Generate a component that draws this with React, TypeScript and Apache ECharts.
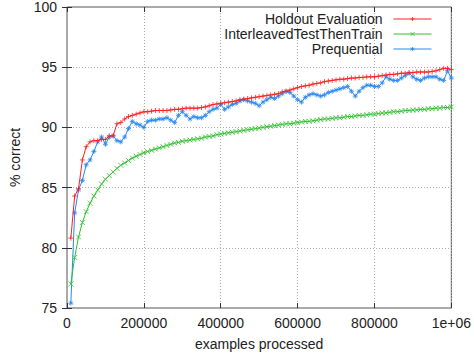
import React, { useEffect, useRef } from "react";
import * as echarts from "echarts";

const SERIES_NAMES = ["Holdout Evaluation", "InterleavedTestThenTrain", "Prequential"];
const EXAMPLES = Array.from({ length: 100 }, (_, i) => (i + 1) * 10000);

const HOLDOUT = [
  80.8, 84.3, 84.9, 87.3, 88.4, 88.8, 88.9, 88.9, 89.0, 89.0,
  89.3, 89.3, 90.3, 90.4, 90.7, 90.9, 91.0, 91.1, 91.2, 91.3,
  91.3, 91.35, 91.4, 91.4, 91.4, 91.4, 91.45, 91.5, 91.5, 91.55,
  91.6, 91.6, 91.6, 91.6, 91.65, 91.7, 91.8, 91.9, 91.95, 92.0,
  92.05, 92.1, 92.15, 92.2, 92.3, 92.35, 92.4, 92.45, 92.5, 92.55,
  92.6, 92.65, 92.7, 92.75, 92.8, 92.95, 93.0, 93.1, 93.2, 93.3,
  93.4, 93.45, 93.5, 93.6, 93.65, 93.7, 93.8, 93.85, 93.9, 93.95,
  94.0, 94.0, 94.05, 94.1, 94.1, 94.15, 94.15, 94.2, 94.2, 94.2,
  94.25, 94.3, 94.35, 94.4, 94.4, 94.45, 94.5, 94.5, 94.55, 94.55,
  94.6, 94.6, 94.6, 94.6, 94.65, 94.7, 94.8, 94.9, 94.9, 94.8,
];

const INTERLEAVED = [
  77.0, 79.2, 80.9, 82.1, 83.0, 83.7, 84.3, 84.8, 85.3, 85.7,
  86.0, 86.3, 86.6, 86.85, 87.05, 87.25, 87.45, 87.6, 87.75, 87.9,
  88.0, 88.1, 88.2, 88.3, 88.4, 88.5, 88.6, 88.7, 88.75, 88.85,
  88.9, 88.95, 89.0, 89.05, 89.1, 89.2, 89.25, 89.3, 89.4, 89.45,
  89.5, 89.55, 89.6, 89.65, 89.7, 89.75, 89.8, 89.85, 89.9, 89.95,
  90.0, 90.05, 90.1, 90.15, 90.2, 90.25, 90.3, 90.3, 90.35, 90.4,
  90.45, 90.5, 90.5, 90.55, 90.6, 90.65, 90.7, 90.7, 90.75, 90.8,
  90.8, 90.85, 90.9, 90.9, 90.95, 91.0, 91.0, 91.05, 91.1, 91.1,
  91.15, 91.2, 91.2, 91.25, 91.3, 91.3, 91.35, 91.4, 91.4, 91.45,
  91.45, 91.5, 91.5, 91.55, 91.55, 91.6, 91.6, 91.65, 91.65, 91.7,
];

const PREQUENTIAL = [
  75.4, 82.9, 84.8, 85.6, 86.9, 87.3, 88.0, 88.8, 89.2, 88.6,
  89.2, 89.3, 88.9, 88.8, 89.2, 89.9, 90.5, 90.3, 90.2, 90.0,
  90.5, 90.6, 90.6, 90.7, 90.7, 90.8, 90.6, 90.4, 91.0, 91.3,
  91.0, 90.7, 90.9, 90.8, 90.8, 91.0, 91.3, 91.5, 91.6, 91.9,
  91.5, 91.7, 91.9, 92.0, 92.2, 92.3, 92.2, 92.1, 92.0, 91.8,
  92.1, 92.3, 92.5, 92.4, 92.6, 92.8, 93.0, 92.9, 92.6, 92.3,
  92.1, 92.5, 92.7, 92.8, 92.7, 92.6, 92.7, 92.9, 93.0, 93.1,
  93.2, 93.3, 93.4, 93.0, 92.6, 93.0, 93.3, 93.5, 93.5, 93.4,
  93.4, 93.7, 94.2, 94.0, 93.9, 93.9, 94.1, 94.3, 94.5, 94.2,
  94.0, 93.9, 94.1, 94.2, 94.2, 94.2, 94.0, 93.9, 94.7, 94.1,
];

const COLORS = ["#ff2020", "#30c030", "#2888f0"];
const SYMBOLS = [
  "path://M5,0L5,10M0,5L10,5",
  "path://M0,0L10,10M10,0L0,10",
  "path://M5,0L5,10M0,5L10,5M1.5,1.5L8.5,8.5M8.5,1.5L1.5,8.5",
];

const FONT = "Liberation Sans";
const TEXT_COLOR = "#222";

export default function App() {
  const ref = useRef<HTMLDivElement>(null);
  useEffect(() => {
    if (!ref.current) return;
    const chart = echarts.init(ref.current, null, { renderer: "svg" });
    const valueSets = [HOLDOUT, INTERLEAVED, PREQUENTIAL];
    const series = SERIES_NAMES.map((name, k) => ({
      name,
      type: "line",
      data: EXAMPLES.map((x, i) => [x, valueSets[k][i]]),
      symbol: SYMBOLS[k],
      symbolSize: 5,
      showSymbol: true,
      lineStyle: { color: COLORS[k], width: 1 },
      itemStyle: { color: COLORS[k], borderColor: COLORS[k], borderWidth: 0.8 },
      z: 3 - k,
    }));
    const legends = SERIES_NAMES.map((name, k) => ({
      data: [name],
      right: 37,
      top: 7 + k * 15,
      align: "right",
      itemWidth: 38,
      itemHeight: 5,
      itemStyle: { borderWidth: 0.8 },
      lineStyle: { width: 1 },
      textStyle: {
        fontFamily: FONT,
        fontSize: 14,
        color: TEXT_COLOR,
        padding: [0, 6, 0, 0],
      },
    }));
    const tickStyle = { lineStyle: { color: "#333", width: 1 } };
    chart.setOption({
      animation: false,
      backgroundColor: "#fff",
      legend: legends,
      grid: {
        left: 65,
        right: 21,
        top: 5,
        bottom: 42,
        show: true,
        borderColor: "#555",
        borderWidth: 1,
        containLabel: false,
      },
      xAxis: [
        {
          type: "value",
          min: 0,
          max: 1000000,
          interval: 200000,
          name: "examples processed",
          nameLocation: "middle",
          nameGap: 29,
          nameTextStyle: { fontFamily: FONT, fontSize: 14, color: TEXT_COLOR },
          axisLine: { show: false },
          axisTick: { show: true, inside: true, length: 5, ...tickStyle },
          axisLabel: {
            fontFamily: FONT,
            fontSize: 14,
            color: TEXT_COLOR,
            margin: 8,
            formatter: (v: number) => (v === 1000000 ? "1e+06" : String(v)),
          },
          splitLine: {
            show: true,
            lineStyle: { color: "#aaa", type: [1, 2], width: 1 },
          },
        },
        {
          type: "value",
          position: "top",
          min: 0,
          max: 1000000,
          interval: 200000,
          axisLine: { show: false },
          axisTick: { show: true, inside: true, length: 5, ...tickStyle },
          axisLabel: { show: false },
          splitLine: { show: false },
        },
      ],
      yAxis: [
        {
          type: "value",
          min: 75,
          max: 100,
          interval: 5,
          name: "% correct",
          nameLocation: "middle",
          nameGap: 45,
          nameRotate: 90,
          nameTextStyle: { fontFamily: FONT, fontSize: 14, color: TEXT_COLOR },
          axisLine: { show: false },
          axisTick: { show: true, inside: true, length: 5, ...tickStyle },
          axisLabel: {
            fontFamily: FONT,
            fontSize: 14,
            color: TEXT_COLOR,
            margin: 10,
          },
          splitLine: {
            show: true,
            lineStyle: { color: "#aaa", type: [1, 2], width: 1 },
          },
        },
        {
          type: "value",
          position: "right",
          min: 75,
          max: 100,
          interval: 5,
          axisLine: { show: false },
          axisTick: { show: true, inside: true, length: 5, ...tickStyle },
          axisLabel: { show: false },
          splitLine: { show: false },
        },
      ],
      series,
    });
    return () => chart.dispose();
  }, []);
  return (
    <div
      ref={ref}
      style={{ position: "fixed", left: 0, top: 0, width: 474, height: 356 }}
    />
  );
}
